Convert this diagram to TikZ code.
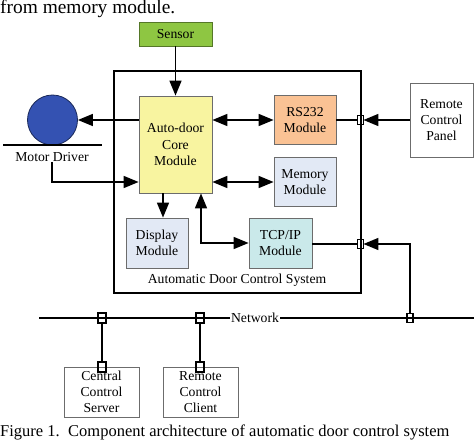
\documentclass[tikz,border=0pt]{standalone}
\usepackage{fontspec}
\setmainfont{Liberation Serif}
\usetikzlibrary{arrows.meta,positioning}
\definecolor{sensorgreen}{RGB}{142,198,66}
\definecolor{coreyellow}{RGB}{248,244,160}
\definecolor{rsorange}{RGB}{250,194,148}
\definecolor{memblue}{RGB}{226,233,245}
\definecolor{tcpcyan}{RGB}{202,233,234}
\definecolor{motorblue}{RGB}{52,82,178}
\newcommand{\diagfont}{\fontsize{13.7}{16.3}\selectfont}
\begin{document}
\begin{tikzpicture}[x=1pt, y=-1pt,
    box/.style={draw=gray!85!black, line width=0.8pt, align=center, inner sep=0pt, font=\diagfont},
    arr/.style={line width=1.6pt, -{Triangle[length=15pt,width=12pt]}},
    arrs/.style={line width=1.6pt, {Triangle[length=15pt,width=12pt]}-{Triangle[length=15pt,width=12pt]}},
    port/.style={draw, line width=0.9pt, minimum width=6pt, minimum height=9pt, inner sep=0pt},
    netport/.style={draw, line width=1.8pt, minimum width=8pt, minimum height=10pt, inner sep=0pt}]
    \useasboundingbox (0,0) rectangle (474,444);

    % --- Testo della pagina ---
    \node[anchor=base west, inner sep=0pt, font=\fontsize{19.4}{21}\selectfont] (toptext) at (0,14) {from memory module.};

    % --- Sistema e moduli interni ---
    \node[draw, line width=1.4pt, minimum width=247pt, minimum height=222pt, inner sep=0pt] (sys) at (237.5,182) {};
    \node[font=\diagfont, inner sep=0pt] (syslabel) at (237,280) {Automatic Door Control System};

    \node[box, fill=sensorgreen, draw=sensorgreen!60!black, minimum width=73pt, minimum height=24pt] (sensor) at (175.5,34) {Sensor};
    \node[box, fill=coreyellow, minimum width=73pt, minimum height=97pt] (core) at (175.5,144.5) {Auto-door\\Core\\Module};
    \node[box, fill=rsorange, minimum width=62pt, minimum height=49pt] (rs) at (305,120) {RS232\\Module};
    \node[box, fill=memblue, minimum width=62pt, minimum height=49pt] (mem) at (305,182) {Memory\\Module};
    \node[box, fill=memblue, minimum width=62pt, minimum height=50pt] (disp) at (157,243) {Display\\Module};
    \node[box, fill=tcpcyan, minimum width=63pt, minimum height=50pt] (tcp) at (280.5,243) {TCP/IP\\Module};

    % --- Motore ---
    \node[circle, draw=motorblue!50!black, line width=0.8pt, fill=motorblue, minimum size=50pt, inner sep=0pt] (motor) at (52.5,120) {};
    \coordinate (groundL) at (3,145);
    \coordinate (groundR) at (102,145);
    \draw[line width=1.6pt] (groundL) -- (groundR);
    \node[font=\diagfont, inner sep=0pt] (driver) at (52,157) {Motor Driver};

    % --- Pannello remoto ---
    \node[box, minimum width=63pt, minimum height=74pt] (panel) at (441.5,120) {Remote\\Control\\Panel};

    % --- Porte sul bordo del sistema ---
    \node[port] (rsport) at (360,120) {};
    \node[port] (tcpport) at (360,244) {};

    % --- Collegamenti ---
    \draw[arr] (sensor.south) -- (core.north);
    \draw[arr] (core.west |- motor) -- (motor.east);
    \draw[arr] (driver.south) |- (core.west |- mem);
    \draw[arrs] (core.east |- rs) -- (rs.west);
    \draw[arrs] (core.east |- mem) -- (mem.west);
    \draw[arr] ([xshift=-12.5pt]core.south) -- ([xshift=-12.5pt]core.south |- disp.north);
    \draw[arrs] ([xshift=25.5pt]core.south) |- (tcp.west);
    \draw[line width=1.6pt] (rs.east) -- (rsport.west);
    \draw[line width=1.6pt] (tcp.east |- tcpport) -- (tcpport.west);
    \draw[arr] (panel.west) -- (rsport.east);

    % --- Rete ---
    \coordinate (netL) at (39,318);
    \coordinate (netR) at (474,318);
    \draw[line width=1.6pt] (netL) -- (netR);
    \node[fill=white, font=\diagfont, inner sep=1pt] (net) at (255,318) {Network};
    \node[netport] (np1) at (102,318) {};
    \node[netport] (np2) at (200,318) {};
    \node[port, line width=1.1pt] (np3) at (410,318) {};
    \draw[arr] (np3.north) |- (tcpport.east);

    % --- Server e client ---
    \node[box, minimum width=75pt, minimum height=50pt] (server) at (101.5,392) {Central\\Control\\Server};
    \node[box, minimum width=75pt, minimum height=50pt] (client) at (200.5,392) {Remote\\Control\\Client};
    \node[netport] (sp1) at (102,367) {};
    \node[netport] (sp2) at (200,367) {};
    \draw[line width=2.2pt] (np1.south) -- (sp1.north);
    \draw[line width=2.2pt] (np2.south) -- (sp2.north);

    % --- Didascalia ---
    \node[anchor=base west, inner sep=0pt, font=\fontsize{16.5}{18}\selectfont] (figno) at (0,436) {Figure 1.};
    \node[anchor=base west, inner sep=0pt, font=\fontsize{16.5}{18}\selectfont] (caption) at (68,436) {Component architecture of automatic door control system};
\end{tikzpicture}
\end{document}
